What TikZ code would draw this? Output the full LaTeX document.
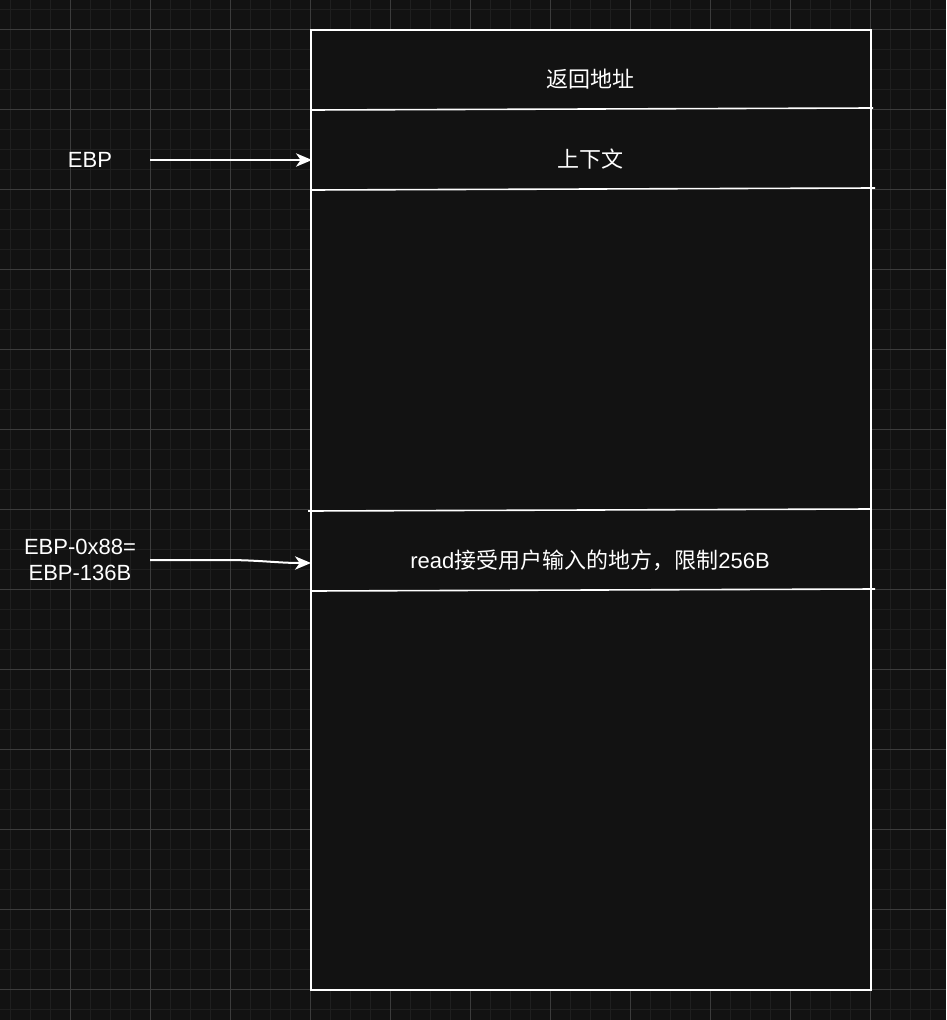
\documentclass[tikz,border=0pt]{standalone}
\usepackage{fontspec}
\setmainfont{Liberation Sans}
\newfontfamily\cjk{Noto Sans CJK SC}
\usetikzlibrary{arrows.meta}
\definecolor{bg}{HTML}{121212}
\definecolor{gminor}{HTML}{1F1F1F}
\definecolor{gmajor}{HTML}{3C3C3C}
\tikzset{
  lbl/.style={text=white,font=\fontsize{16.5}{20}\selectfont,align=center,inner sep=0pt},
  wl/.style={draw=white,line width=1.2pt},
  arr/.style={white,line width=1.5pt,-{Stealth[length=12pt,width=10pt,inset=3.5pt]}}
}
\begin{document}
\begin{tikzpicture}[x=0.75pt,y=-0.75pt]
\fill[bg] (0,0) rectangle (946,1020);
\useasboundingbox (0,0) rectangle (946,1020);
\foreach \i in {10,30,...,940} \draw[gminor,line width=0.75pt] (\i,0) -- (\i,1020);
\foreach \i in {9.5,29.5,...,1020} \draw[gminor,line width=0.75pt] (0,\i) -- (946,\i);
\foreach \i in {70,150,...,940} \draw[gmajor,line width=0.75pt] (\i,0) -- (\i,1020);
\foreach \i in {29.5,109.5,...,1020} \draw[gmajor,line width=0.75pt] (0,\i) -- (946,\i);
\fill[bg] (311,30) rectangle (871,990);
\draw[wl] (311,30) rectangle (871,990);
\draw[wl] (311,110) -- (873,108);
\draw[wl] (311,190) -- (875,188);
\draw[wl] (308,511) -- (871,509);
\draw[wl] (311,591) -- (875,589);
\node[lbl] (ret) at (590,79) {\cjk 返回地址};
\node[lbl] (ctx) at (590,159) {\cjk 上下文};
\node[lbl] (rd) at (590,560) {read{\cjk 接受用户输入的地方，限制}256B};
\node[lbl] (ebp) at (90,160) {EBP};
\node[lbl] (ebp2) at (80,560) {EBP-0x88=\\EBP-136B};
\coordinate (a1) at (150,160);
\coordinate (b1) at (312,160);
\coordinate (a2) at (150,560);
\coordinate (b2) at (311,563);
\draw[arr] (a1) -- (b1);
\draw[arr] (a2) -- (225,560) to[out=0,in=180] (b2);
\end{tikzpicture}
\end{document}
